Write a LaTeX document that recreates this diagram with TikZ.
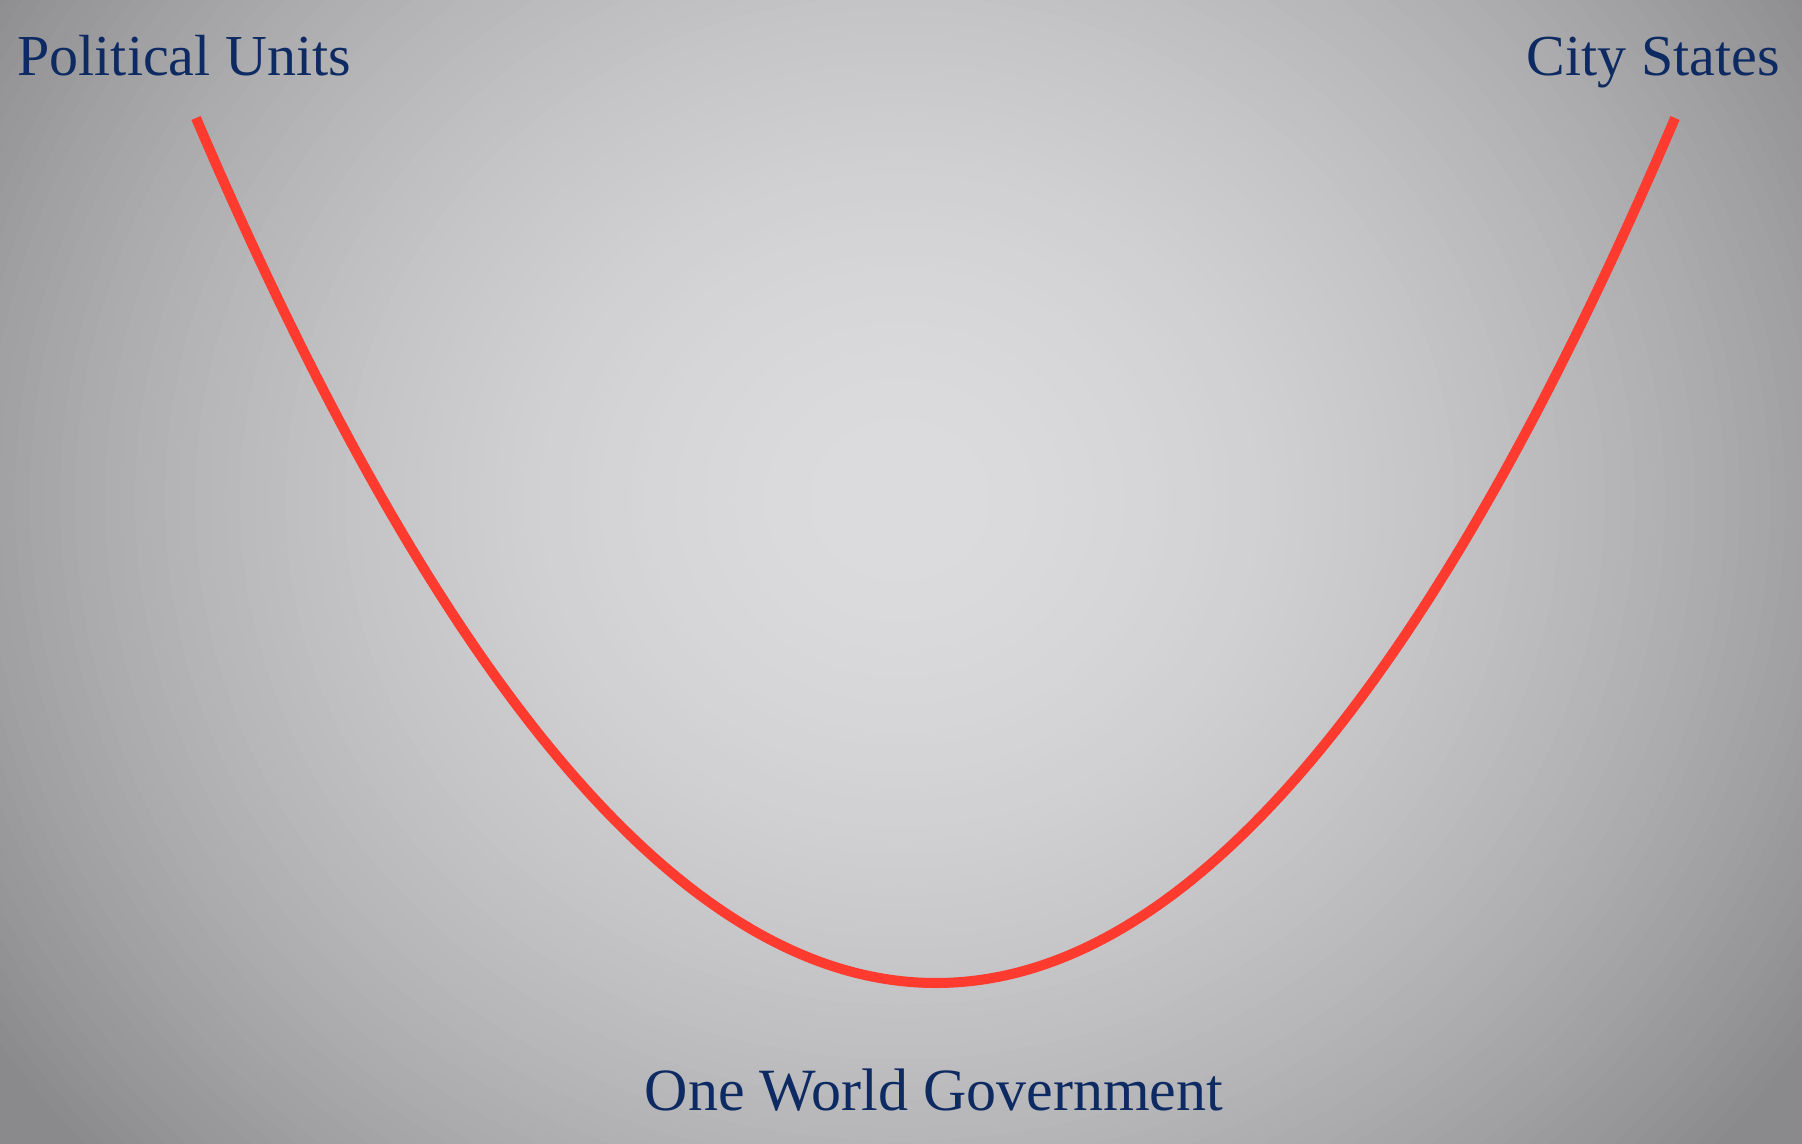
\documentclass[tikz,border=0pt]{standalone}
\usepackage{fontspec}
\setmainfont{Liberation Serif}
\definecolor{navy}{HTML}{0E2A62}
\definecolor{curvered}{HTML}{FF3A2F}
\tikzset{
  label/.style={text=navy, font=\fontsize{29pt}{34pt}\selectfont, inner sep=0pt},
  biglabel/.style={label, font=\fontsize{30pt}{35pt}\selectfont},
  curve/.style={draw=curvered, line width=5pt, line cap=butt}
}
\begin{document}
\begin{tikzpicture}[x=0.5pt,y=-0.5pt]
\useasboundingbox (0,0) rectangle (1802,1144);
\begin{scope}
  \clip (0,0) rectangle (1802,1144);
  \fill[black!45] (0,0) rectangle (1802,1144);
  \foreach \k in {82,81,...,1}{
    \pgfmathsetmacro{\rr}{15*\k}
    \pgfmathsetmacro{\ry}{\rr/1.1}
    \pgfmathsetmacro{\tt}{\rr/1000}
    \pgfmathtruncatemacro{\vv}{max(138,220 - 69.08*(\tt^1.8))}
    \pgfmathtruncatemacro{\bb}{\vv+2}
    \definecolor{ringc}{RGB}{\vv,\vv,\bb}
    \fill[ringc] (900,500) ellipse [x radius=\rr, y radius=\ry];
  }
\end{scope}
\node[label, anchor=base west] (pu) at (17,76) {Political Units};
\node[label, anchor=base east] (cs) at (1780,76) {City States};
\node[biglabel, anchor=base] (owg) at (934,1110) {One World Government};
\coordinate (L) at (196,118);
\coordinate (V) at (936,983);
\coordinate (R) at (1675,118);
\draw[curve] (L) .. controls (443,695) and (689,983) .. (V)
             .. controls (1183,983) and (1429,695) .. (R);
\end{tikzpicture}
\end{document}
